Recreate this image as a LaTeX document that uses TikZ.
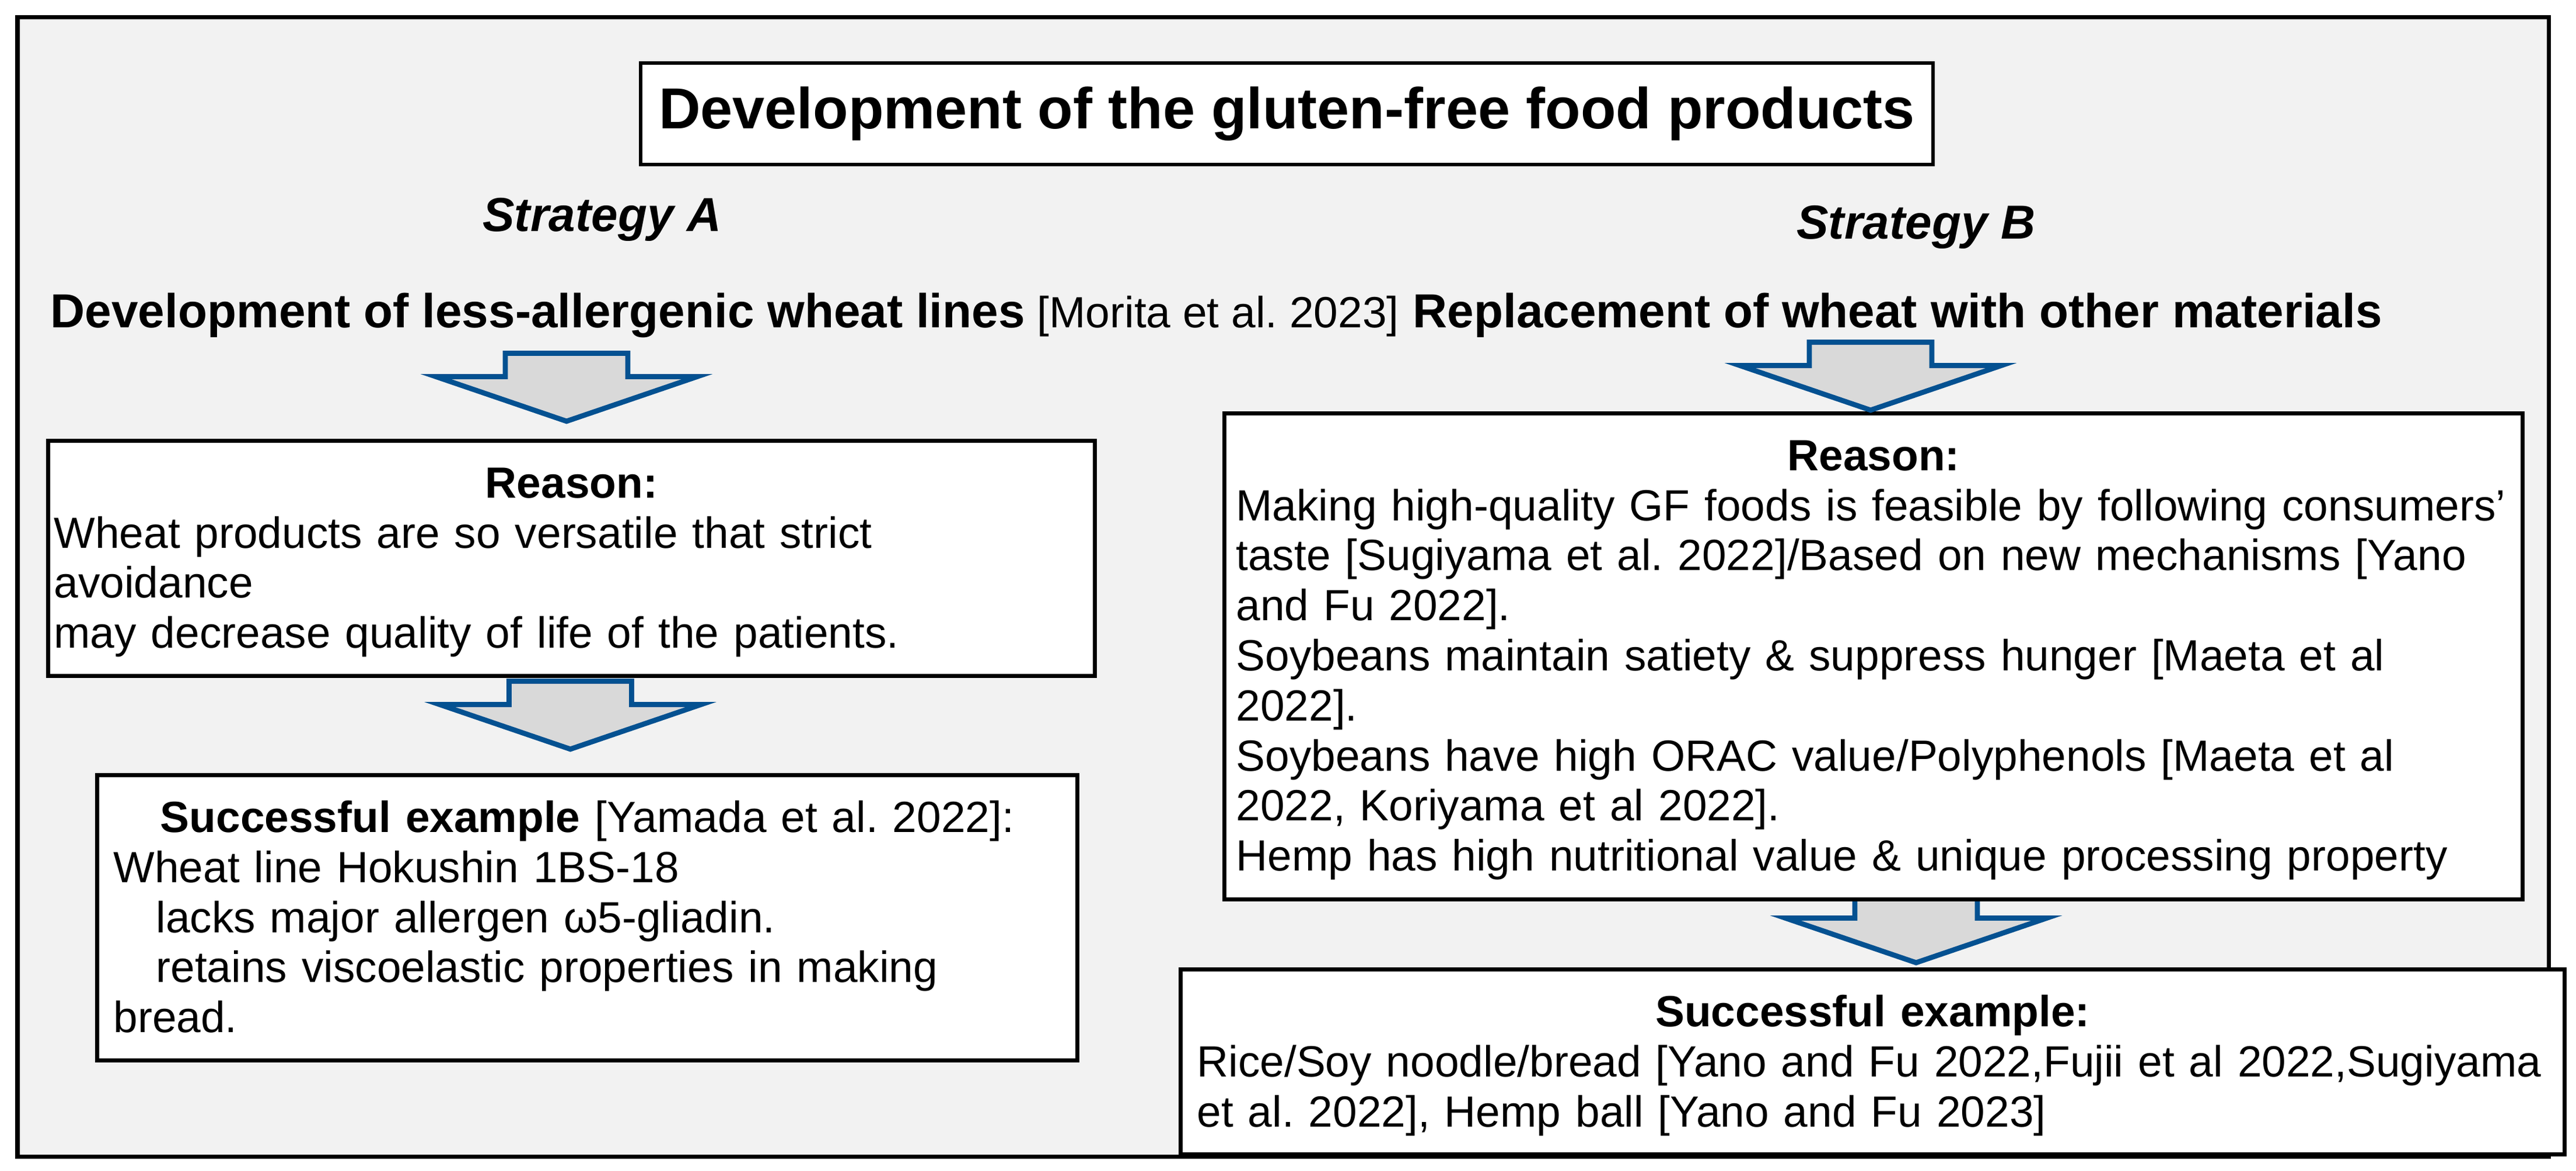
\documentclass[tikz,border=0pt]{standalone}
\usepackage{fontspec}
\setmainfont{Liberation Sans}
\frenchspacing
\hyphenpenalty=10000
\exhyphenpenalty=10000

\definecolor{panelgray}{RGB}{242,242,242}
\definecolor{arrowfill}{RGB}{217,217,217}
\definecolor{arrowblue}{RGB}{4,81,145}

\newcommand{\bodysize}{\fontsize{21.3pt}{24.4pt}\selectfont}
\newcommand{\headsize}{\fontsize{23.3pt}{27pt}\selectfont}
\newcommand{\titlesize}{\fontsize{28.2pt}{33pt}\selectfont}

\tikzset{
  blockarrow/.pic={
    \filldraw[fill=arrowfill, draw=arrowblue, line width=2.5pt]
      (0,0) -- (-2.24,0.765) -- (-1.05,0.765) -- (-1.05,1.165)
      -- (1.05,1.165) -- (1.05,0.765) -- (2.24,0.765) -- cycle;
  }
}

\begin{document}
\begin{tikzpicture}[
    panel/.style={draw, fill=white, line width=2pt, anchor=north west,
      inner xsep=0.28cm, inner ysep=0pt, align=left, text height=0.98cm,
      font=\bodysize},
    strategy/.style={anchor=base, inner sep=0pt, font=\headsize\bfseries\itshape},
    heading/.style={anchor=base west, inner sep=0pt, font=\headsize\bfseries}
  ]
  \useasboundingbox (0,0) rectangle (44.15,20.07);
  \filldraw[fill=panelgray, line width=2pt] (0.30,0.24) rectangle (43.68,19.77);

  % title
  \node[draw, fill=white, line width=1.6pt, minimum width=22.15cm, minimum height=1.74cm,
    font=\titlesize\bfseries] (title) at (22.055,18.12) {Development of the gluten-free food products};

  % strategies
  \node[strategy] (stratA) at (10.32,16.10) {Strategy A};
  \node[strategy] (stratB) at (32.84,15.97) {Strategy B};
  \node[heading] (headA) at (0.86,14.45) {Development of less-allergenic wheat lines{\mdseries\bodysize{} [Morita et al. 2023]}};
  \node[heading] (headB) at (24.21,14.45) {Replacement of wheat with other materials};

  % Strategy A (left)
  \node[panel, inner xsep=0.1cm, text width=17.74cm, text depth=3.05cm] (reasonA) at (0.79,12.55) {%
    \makebox[\linewidth]{\bfseries Reason:}\\
    Wheat products are so versatile that strict\\
    avoidance\\
    may decrease quality of life of the patients.};
  \node[panel, text width=16.24cm, text depth=3.91cm] (exampleA) at (1.63,6.82) {%
    \makebox[\linewidth]{\textbf{Successful example} [Yamada et al. 2022]:}\\
    Wheat line Hokushin 1BS-18\\
    \hspace*{0.73cm}lacks major allergen ω5-gliadin.\\
    \hspace*{0.73cm}retains viscoelastic properties in making\\
    bread.};

  % Strategy B (right)
  \node[panel, text width=23.16cm, text depth=2.19cm] (exampleB) at (20.20,3.49) {%
    \makebox[\linewidth]{\bfseries Successful example:}\\
    Rice/Soy noodle/bread [Yano and Fu 2022,Fujii et al 2022,Sugiyama\\
    et al. 2022], Hemp ball [Yano and Fu 2023]};
  \pic at (32.84,3.57) {blockarrow};
  \node[panel, inner xsep=0.2cm, text width=21.85cm, text depth=7.35cm] (reasonB) at (20.95,13.02) {%
    \makebox[\linewidth]{\bfseries Reason:}\\
    Making high-quality GF foods is feasible by following consumers’\\
    taste [Sugiyama et al. 2022]/Based on new mechanisms [Yano\\
    and Fu 2022].\\
    Soybeans maintain satiety \& suppress hunger [Maeta et al\\
    2022].\\
    Soybeans have high ORAC value/Polyphenols [Maeta et al\\
    2022, Koriyama et al 2022].\\
    Hemp has high nutritional value \& unique processing property};

  % arrows
  \pic at (9.71,12.85) {blockarrow};
  \pic at (9.775,7.23) {blockarrow};
  \pic at (32.06,13.04) {blockarrow};
\end{tikzpicture}
\end{document}
